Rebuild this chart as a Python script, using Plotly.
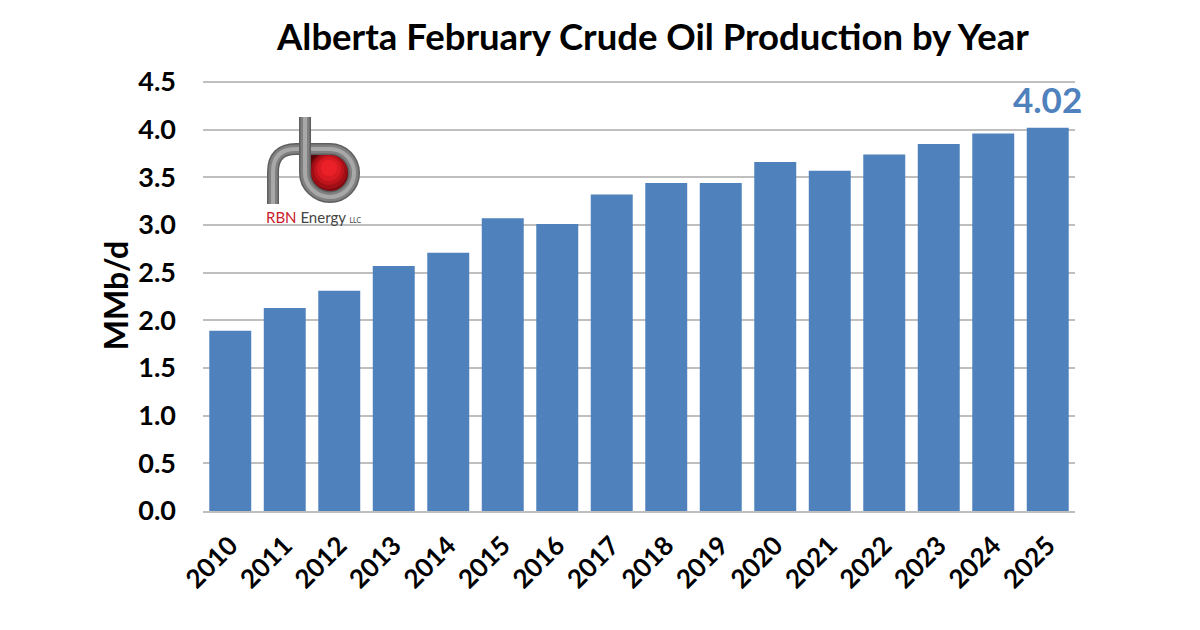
import plotly.graph_objects as go

years = ['2010', '2011', '2012', '2013', '2014', '2015', '2016', '2017',
         '2018', '2019', '2020', '2021', '2022', '2023', '2024', '2025']
production = [1.89, 2.13, 2.31, 2.57, 2.71, 3.07, 3.01, 3.32,
              3.44, 3.44, 3.66, 3.57, 3.74, 3.85, 3.96, 4.02]
y_ticks = [0, 0.5, 1, 1.5, 2, 2.5, 3, 3.5, 4, 4.5]

font_name = 'Lato'
bar_color = '#4F81BD'
grid_color = '#BFBFBF'

# the page has an 8px body margin, so the figure is shrunk to fit the window
fig_w, fig_h = 1192, 622
left, right, top, bottom = 195, 125, 72, 119
plot_w = fig_w - left - right
plot_h = fig_h - top - bottom


# screenshot pixels -> paper coordinates, only used for the logo
def px(x):
    return (x - 8 - left) / plot_w


def py(y):
    return 1 - (y - 8 - top) / plot_h


def to_path(cmds):
    # cmds like ('M', (x, y)) or ('C', (x1, y1), (x2, y2), (x, y))
    out = []
    for c in cmds:
        out.append(c[0] + ' ' + ' '.join(f'{px(x):.4f},{py(y):.4f}' for x, y in c[1:]))
    return ' '.join(out)


def circle(cx, cy, r, **kw):
    fig.add_shape(type='circle', xref='paper', yref='paper', x0=px(cx - r), x1=px(cx + r),
                  y0=py(cy + r), y1=py(cy - r), layer='above', **kw)


fig = go.Figure()

fig.add_trace(go.Bar(x=years, y=production, marker=dict(color=bar_color, line=dict(width=0)), width=0.77))

# last value label sits above the final bar (category axis wants the index here, not the year)
fig.add_annotation(x=len(years) - 1, y=production[-1], text='<b>4.02</b>', showarrow=False, yanchor='bottom', yshift=6,
                   font=dict(family=font_name, size=35, color=bar_color))

# RBN logo: red ball with shading steps, square corner against the stem, then the pipe on top
fig.add_shape(type='rect', xref='paper', yref='paper', x0=px(305), x1=px(330), y0=py(173), y1=py(149),
              layer='above', fillcolor='#B01118', line=dict(width=0))
for r, c, dy in [(25, '#5A0508', 173), (20, '#7E0A0F', 172), (18, '#A00F15', 171), (15, '#BE141B', 170),
                 (12, '#D81A22', 169), (8, '#EC2029', 168)]:
    circle(329, dy, r, fillcolor=c, line=dict(width=0))

pipe_r = [('M', (273, 204)), ('L', (273, 172)), ('Q', (273, 149), (296, 149)), ('L', (330, 149)),
          ('C', (343.25, 149), (354, 159.75), (354, 173)), ('C', (354, 186.25), (343.25, 197), (330, 197))]
pipe_b = [('M', (305, 117)), ('L', (305, 173)), ('C', (305, 186.25), (316.75, 197), (330, 197))]
for pipe in [pipe_r, pipe_b]:
    for w, c in [(12, '#5E5E5E'), (9, '#808080'), (4, '#A8A8A8')]:
        fig.add_shape(type='path', xref='paper', yref='paper', path=to_path(pipe), layer='above',
                      line=dict(color=c, width=w))

fig.add_annotation(xref='paper', yref='paper', x=px(313), y=py(217), xanchor='center', yanchor='middle',
                   showarrow=False,
                   text='<span style="color:#C8202C">RBN</span> Energy <span style="font-size:7px">LLC</span>',
                   font=dict(family=font_name, size=15, color='#444444'))

fig.update_layout(
    width=fig_w, height=fig_h,
    title=dict(text='<b>Alberta February Crude Oil Production by Year</b>', x=645 / fig_w, xanchor='center',
               y=1 - 29 / fig_h, yanchor='middle', font=dict(family=font_name, size=36.5, color='black')),
    paper_bgcolor='white', plot_bgcolor='white',
    margin=dict(l=left, r=right, t=top, b=bottom),
    showlegend=False,
    xaxis=dict(type='category', range=[-0.5, len(years) - 0.5], tickangle=-45, ticklabelstandoff=7,
               tickfont=dict(family=font_name, size=26, color='black', weight='bold'),
               showline=True, linecolor=grid_color, linewidth=2, ticks='', showgrid=False),
    # top of range pushed past 4.5 (margin t lowered to match), otherwise plotly drops the gridline on the edge
    yaxis=dict(title=dict(text='<b>MMb/d</b>', font=dict(family=font_name, size=32, color='black'), standoff=0),
               range=[0, 4.521], tickvals=y_ticks, tickformat='.1f', ticklabelstandoff=26,
               tickfont=dict(family=font_name, size=27, color='black', weight='bold'),
               showgrid=True, gridcolor=grid_color, gridwidth=2, zeroline=False, ticks=''),
)

fig.write_html('out.html')
